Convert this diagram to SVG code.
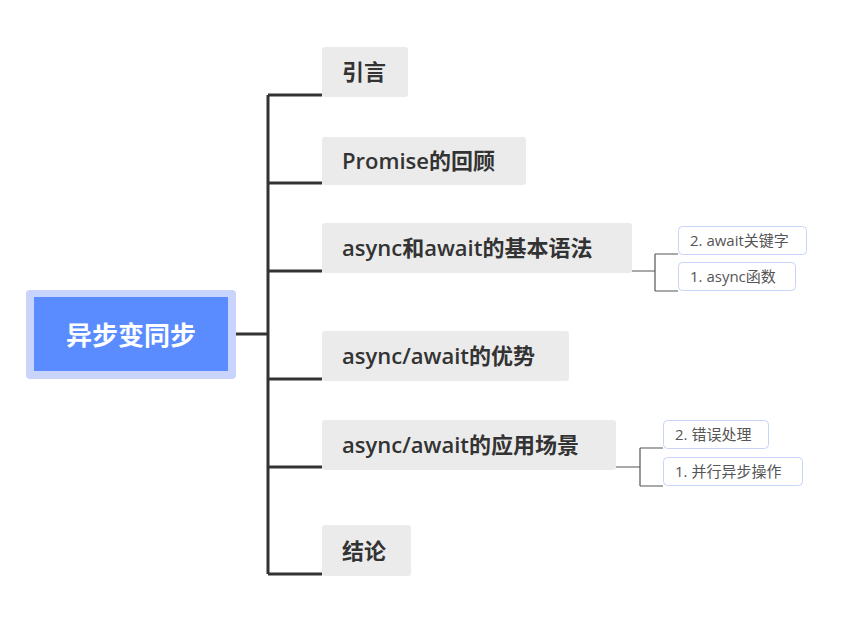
<svg xmlns="http://www.w3.org/2000/svg" width="850" height="642" viewBox="0 0 850 642">
<style>
.t{font-family:"Open Sans","Noto Sans CJK SC",sans-serif;fill:#333}
.b{fill:#ebebeb}
.m{font-size:22px;font-weight:600}
.s{fill:#fff;stroke:#c8d3f8;stroke-width:1}
.st{font-size:15px;fill:#555}
.c{fill:none;stroke:#333;stroke-width:3}
.c2{fill:none;stroke:#555;stroke-width:1.2}
</style>
<rect width="850" height="642" fill="#fff"/>
<g id="connectors">
<path class="c" d="M236 334H268M268 95V574M268 95H322M268 183H322M268 271H322M268 379H322M268 467H322M268 574H322"/>
<path class="c2" d="M632 271H655M655 254V291M655 254H678M655 291H678M616 467H640M640 448V486M640 448H663M640 486H663"/>
</g>
<g id="root">
<rect x="26" y="290" width="210" height="89" rx="4" fill="#c9d4fd"/>
<rect x="34" y="297" width="194" height="74" fill="#5a8cff"/>
<text x="131" y="345" text-anchor="middle" font-family="Open Sans,Noto Sans CJK SC,sans-serif" font-size="26" font-weight="bold" fill="#fff">异步变同步</text>
</g>
<g id="n1"><rect class="b" x="322" y="47" width="86" height="50" rx="3"/><text class="t m" x="342" y="80">引言</text></g>
<g id="n2"><rect class="b" x="322" y="137" width="204" height="48" rx="3"/><text class="t m" x="342" y="169">Promise的回顾</text></g>
<g id="n3"><rect class="b" x="322" y="223" width="310" height="50" rx="3"/><text class="t m" x="342" y="256">async和await的基本语法</text></g>
<g id="n4"><rect class="b" x="322" y="331" width="247" height="50" rx="3"/><text class="t m" x="342" y="364">async/await的优势</text></g>
<g id="n5"><rect class="b" x="322" y="420" width="294" height="50" rx="3"/><text class="t m" x="342" y="453">async/await的应用场景</text></g>
<g id="n6"><rect class="b" x="322" y="525" width="89" height="51" rx="3"/><text class="t m" x="342" y="559">结论</text></g>
<g id="s1"><rect class="s" x="678.5" y="226.5" width="128" height="28" rx="4"/><text class="t st" x="690" y="246">2. await关键字</text></g>
<g id="s2"><rect class="s" x="678.5" y="262.5" width="117" height="28" rx="4"/><text class="t st" x="690" y="282">1. async函数</text></g>
<g id="s3"><rect class="s" x="663.5" y="420.5" width="105" height="28" rx="4"/><text class="t st" x="675" y="440">2. 错误处理</text></g>
<g id="s4"><rect class="s" x="663.5" y="457.5" width="139" height="28" rx="4"/><text class="t st" x="675" y="477">1. 并行异步操作</text></g>
</svg>
